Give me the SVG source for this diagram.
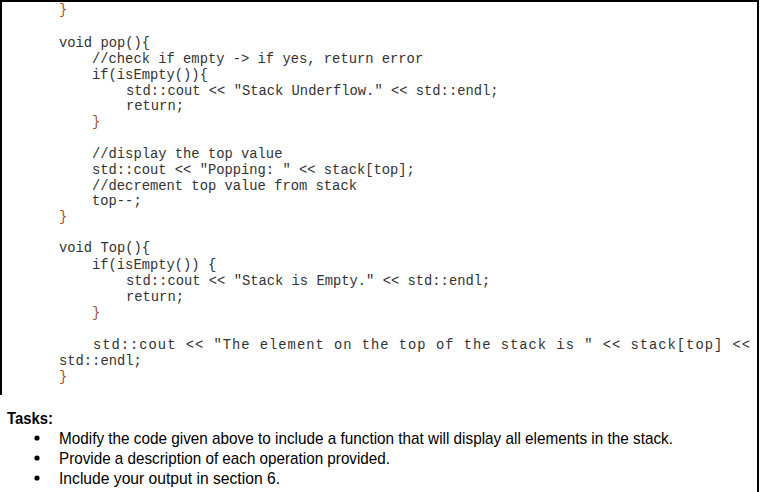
<svg xmlns="http://www.w3.org/2000/svg" width="760" height="492" viewBox="0 0 760 492">
<style>
.c{font-family:"Liberation Mono",monospace;font-size:13.8px;fill:#333;white-space:pre}
.b{fill:#a0522d}
.t{font-family:"Liberation Sans",Arial,sans-serif;font-size:17px;fill:#000}
</style>
<rect width="760" height="492" fill="#fff"/>
<g id="frame" stroke="#000" stroke-width="2" fill="none">
<line x1="1" y1="1" x2="759" y2="1"/>
<line x1="1" y1="0" x2="1" y2="395"/>
<line x1="758" y1="0" x2="758" y2="492"/>
</g>
<g id="code">
<text class="c b" x="59" y="14">}</text>
<text class="c" x="59" y="47">void pop(){</text>
<text class="c" x="92" y="63">//check if empty -&gt; if yes, return error</text>
<text class="c" x="92" y="79">if(isEmpty()){</text>
<text class="c" x="126" y="95">std::cout &lt;&lt; "Stack Underflow." &lt;&lt; std::endl;</text>
<text class="c" x="126" y="110">return;</text>
<text class="c b" x="92" y="126">}</text>
<text class="c" x="92" y="158">//display the top value</text>
<text class="c" x="92" y="174">std::cout &lt;&lt; "Popping: " &lt;&lt; stack[top];</text>
<text class="c" x="92" y="190">//decrement top value from stack</text>
<text class="c" x="92" y="205">top--;</text>
<text class="c b" x="59" y="221">}</text>
<text class="c" x="59" y="252">void Top(){</text>
<text class="c" x="92" y="269">if(isEmpty()) {</text>
<text class="c" x="126" y="285">std::cout &lt;&lt; "Stack is Empty." &lt;&lt; std::endl;</text>
<text class="c" x="126" y="301">return;</text>
<text class="c b" x="92" y="317">}</text>
<text class="c" x="93" y="349" textLength="657" lengthAdjust="spacing">std::cout &lt;&lt; "The element on the top of the stack is " &lt;&lt; stack[top] &lt;&lt;</text>
<text class="c" x="59" y="365">std::endl;</text>
<text class="c b" x="59" y="381">}</text>
</g>
<g id="tasks">
<text class="t" x="7" y="424" font-weight="bold" textLength="46" lengthAdjust="spacingAndGlyphs">Tasks:</text>
<circle cx="37" cy="438" r="2.6"/>
<circle cx="37" cy="458" r="2.6"/>
<circle cx="37" cy="478" r="2.6"/>
<text class="t" x="59" y="444" textLength="614" lengthAdjust="spacingAndGlyphs">Modify the code given above to include a function that will display all elements in the stack.</text>
<text class="t" x="59" y="464" textLength="331" lengthAdjust="spacingAndGlyphs">Provide a description of each operation provided.</text>
<text class="t" x="59" y="484" textLength="221" lengthAdjust="spacingAndGlyphs">Include your output in section 6.</text>
</g>
</svg>
